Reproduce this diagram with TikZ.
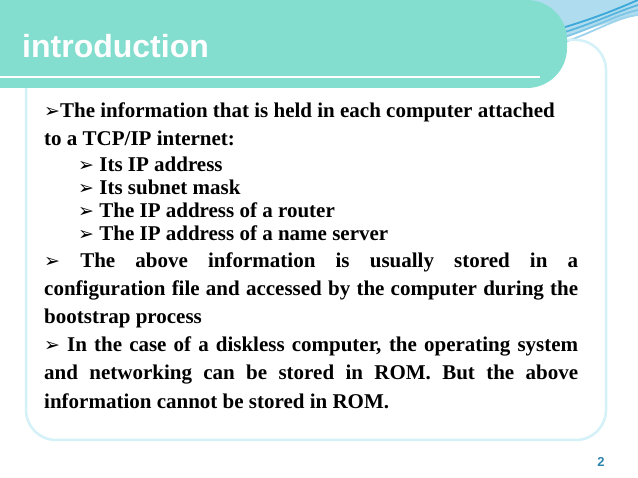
\documentclass[tikz,border=0pt]{standalone}
\usepackage{fontspec}
\setmainfont{Liberation Serif}
\newfontfamily\dv{DejaVu Sans}
\newfontfamily\lsans{Liberation Sans}
\definecolor{teal1}{HTML}{84DECF}
\definecolor{frame}{HTML}{D3F1F6}
\definecolor{sw}{HTML}{3AA8D8}
\newcommand{\arr}{{\dv\fontsize{19}{19}\selectfont ➢}}
\begin{document}
\begin{tikzpicture}[x=1pt,y=-1pt,
  txt/.style={anchor=base west,inner sep=0pt,font=\bfseries\fontsize{21}{24}\selectfont}]
\useasboundingbox (0,0) rectangle (638,478);
\fill[white] (0,0) rectangle (638,478);
% swooshes
\fill[sw!40] (500,0) -- (638,0) -- (638,14) .. controls (610,22) and (580,32) .. (545,42) -- cycle;
\foreach \d/\c in {0/sw,5/sw!85,10/sw!65,15/sw!50}{
 \draw[\c,line width=1.8pt] (555,30+\d) .. controls (590,20+\d) and (615,10+\d/2) .. (638,0+\d);}
% frame
\draw[frame,line width=2.5pt,rounded corners=30pt] (26,40) rectangle (606,440);
% title band
\fill[teal1,rounded corners=40pt] (-50,0) rectangle (567,88);
\draw[white,line width=2pt] (0,77) -- (540,77);
\node[anchor=base west,inner sep=0pt,text=white,font=\lsans\bfseries\fontsize{32}{36}\selectfont] (title) at (22,58) {introduction};
% body
\node[txt] (l1) at (44,118) {\arr The information that is held in each computer attached};
\node[txt] (l2) at (44,146) {to a TCP/IP internet:};
\node[txt] (l3) at (78,172) {\arr{} Its IP address};
\node[txt] (l4) at (78,195) {\arr{} Its subnet mask};
\node[txt] (l5) at (78,218) {\arr{} The IP address of a router};
\node[txt] (l6) at (78,241) {\arr{} The IP address of a name server};
\node[txt] (l7) at (44,268) {\makebox[534pt][s]{\arr{} The above information is usually stored in a}};
\node[txt] (l8) at (44,296) {\makebox[534pt][s]{configuration file and accessed by the computer during the}};
\node[txt] (l9) at (44,324) {bootstrap process};
\node[txt] (l10) at (44,352) {\makebox[534pt][s]{\arr{} In the case of a diskless computer, the operating system}};
\node[txt] (l11) at (44,380) {\makebox[534pt][s]{and networking can be stored in ROM. But the above}};
\node[txt] (l12) at (44,409) {information cannot be stored in ROM.};
\node[anchor=base,inner sep=0pt,text=sw!80!black,font=\lsans\bfseries\fontsize{13}{14}\selectfont] (pg) at (601,467) {2};
\end{tikzpicture}
\end{document}
